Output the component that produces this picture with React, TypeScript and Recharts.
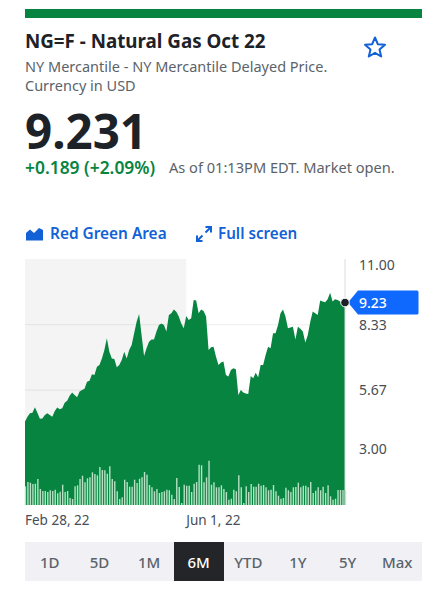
import { Area, Bar, CartesianGrid, ComposedChart, ReferenceArea, ReferenceDot, XAxis, YAxis } from 'recharts';

const prices = [
  4.39, 4.59, 4.73, 4.75, 4.97, 4.75, 4.51, 4.52, 4.66, 4.73, 4.66, 4.59, 4.82, 4.96, 4.89, 4.93, 5.16, 5.24, 5.44, 5.57,
  5.47, 5.38, 5.61, 5.67, 5.73, 6.01, 6.05, 6.32, 6.28, 6.62, 6.69, 6.96, 7.3, 7.78, 7.23, 6.96, 6.93, 6.6, 6.69, 6.89,
  7.23, 6.96, 7.3, 7.5, 7.98, 8.45, 8.76, 7.91, 7.06, 7.37, 7.64, 7.73, 7.73, 8.05, 8.32, 8.38, 8.32, 8.05, 8.72, 8.79,
  8.95, 8.86, 8.66, 8.38, 8.18, 8.68, 8.52, 8.59, 9.33, 9.31, 8.79, 8.95, 8.89, 8.66, 7.3, 7.41, 7.43, 7.03, 6.69, 6.79,
  6.83, 6.28, 6.22, 6.49, 6.56, 6.52, 5.47, 5.67, 5.57, 5.53, 5.51, 6.24, 6.15, 6.38, 6.19, 6.69, 6.69, 7.1, 7.43, 7.37,
  7.98, 7.98, 8.32, 8.79, 8.95, 8.66, 8.18, 8.22, 8.25, 7.73, 8.25, 8.16, 8.05, 7.61, 7.91, 8.45, 8.87, 8.79, 8.72, 9.31,
  9.27, 9.24, 9.36, 9.63, 9.27, 9.36, 9.33, 9.27, 9.17, 9.23,
];

const volumes = [
  18700, 23000, 22300, 21000, 21300, 26000, 16000, 14000, 14000, 13000, 14700, 14000, 15300, 11700, 13300, 20300, 13000, 14000, 7000, 6000,
  18700, 19700, 26000, 29300, 22700, 26700, 27700, 32700, 31000, 29700, 38000, 35000, 34700, 31300, 38700, 26000, 23700, 13700, 6000, 7700,
  25300, 23000, 18300, 18300, 25300, 22000, 26300, 27700, 33000, 30300, 20000, 17700, 13700, 16000, 12000, 13000, 13700, 15300, 14700, 10300,
  6000, 27000, 18000, 2000, 20300, 19300, 19300, 13000, 21300, 23000, 40300, 39700, 22700, 27700, 44300, 20300, 22700, 17700, 17700, 19700,
  16000, 13000, 5300, 6300, 15300, 13700, 29700, 17700, 2000, 18700, 13000, 21000, 18300, 18300, 21300, 19300, 20000, 17700, 14700, 15300,
  20000, 13700, 9300, 6300, 7000, 17300, 14700, 13000, 17700, 18000, 22300, 17700, 19300, 19300, 17700, 23000, 12000, 14300, 17700, 14700,
  18300, 12000, 19700, 8700, 5300, 6300, 15000, 15000, 15000, 15000,
];

const priceTicks = [3, 5.67, 8.33, 11];
const gridValues = [5.67, 8.33];
const dateTicks = [0, 65];
const dateLabels = ['Feb 28, 22', 'Jun 1, 22'];
const ranges = ['1D', '5D', '1M', '6M', 'YTD', '1Y', '5Y', 'Max'];
const activeRange = '6M';

const GREEN = '#07843f';
const BLUE = '#1261d6';
const GREY = '#5b636a';
const FONT = '"Noto Sans", sans-serif';

const chartData = prices.map((price, i) => ({ i, price, volume: volumes[i] }));
const lastIndex = prices.length - 1;

function PriceTick({ x, y, payload }: any) {
  // the outer labels are pulled inwards, like the app does it
  const shift = payload.value === 11 ? 6 : payload.value === 3 ? -7 : 0;
  return (
    <text x={x + 6} y={y + shift} dy={5} fontSize={14} fontFamily={FONT} fill="#464e56">
      {payload.value.toFixed(2)}
    </text>
  );
}

function DateTick({ x, y, payload }: any) {
  return (
    <text x={x} y={y} dy={12} fontSize={13.5} fontFamily={FONT} fill="#464e56">
      {dateLabels[dateTicks.indexOf(payload.value)]}
    </text>
  );
}

function LastPrice({ cx, cy }: any) {
  return (
    <g>
      <path
        d={`M${cx + 3} ${cy} L${cx + 13} ${cy - 12} H${cx + 72} a1.5 1.5 0 0 1 1.5 1.5 V${cy + 10.5} a1.5 1.5 0 0 1 -1.5 1.5 H${cx + 13} Z`}
        fill="#0f69ff"
      />
      <text x={cx + 14} y={cy + 5} fontSize={14} fontWeight={500} fontFamily={FONT} fill="#fff">
        {prices[lastIndex].toFixed(2)}
      </text>
      <circle cx={cx} cy={cy} r={4.3} fill="#1d2228" stroke="#fff" strokeWidth={1} />
    </g>
  );
}

function Label({ left, top, size, weight, color, children }: any) {
  return (
    <div
      style={{
        position: 'absolute',
        left,
        top,
        fontSize: size,
        fontWeight: weight,
        color,
        lineHeight: 1,
        whiteSpace: 'nowrap',
      }}
    >
      {children}
    </div>
  );
}

export default function App() {
  return (
    <div style={{ position: 'absolute', left: 0, top: 0, width: 447, height: 600, background: '#fff', fontFamily: FONT }}>
      <div style={{ position: 'absolute', left: 25, top: 9, width: 397, height: 9, background: GREEN }} />

      <Label left={25} top={32} size={18.8} weight={700} color="#1d2228">NG=F - Natural Gas Oct 22</Label>
      <svg style={{ position: 'absolute', left: 363, top: 35 }} width={24} height={24} viewBox="0 0 24 24">
        <path d="M12 2.5 L14.8 9.2 L22 9.8 L16.5 14.5 L18.2 21.5 L12 17.8 L5.8 21.5 L7.5 14.5 L2 9.8 L9.2 9.2 Z" fill="none" stroke={BLUE} strokeWidth={2} strokeLinejoin="round" />
      </svg>
      <Label left={25} top={59} size={14.5} weight={400} color={GREY}>NY Mercantile - NY Mercantile Delayed Price.</Label>
      <Label left={25} top={78} size={14.5} weight={400} color={GREY}>Currency in USD</Label>

      <Label left={25} top={107} size={47.5} weight={700} color="#1d2228">9.231</Label>
      <Label left={25} top={159} size={17.4} weight={600} color={GREEN}>+0.189 (+2.09%)</Label>
      <Label left={169} top={160} size={14.6} weight={400} color={GREY}>As of 01:13PM EDT. Market open.</Label>

      <svg style={{ position: 'absolute', left: 26, top: 227 }} width={18} height={14} viewBox="0 0 18 14">
        <path d="M0 6 L4 2.5 L8 6 L13 1 L17 3 V13.5 H0 Z" fill={BLUE} />
      </svg>
      <Label left={50} top={226} size={15.4} weight={600} color={BLUE}>Red Green Area</Label>
      <svg style={{ position: 'absolute', left: 196, top: 226 }} width={16} height={16} viewBox="0 0 16 16">
        <path d="M1.5 14.5 L6.5 9.5 M1 9.5 V15 H6.5 M14.5 1.5 L9.5 6.5 M9.5 1 H15 V6.5" fill="none" stroke={BLUE} strokeWidth={2} />
      </svg>
      <Label left={218} top={226} size={15.2} weight={600} color={BLUE}>Full screen</Label>

      <div style={{ position: 'absolute', left: 0, top: 240 }}>
        <ComposedChart width={447} height={290} data={chartData} margin={{ top: 19, right: 28, bottom: 0, left: 25 }}>
          <XAxis
            dataKey="i"
            type="number"
            domain={[0, lastIndex]}
            ticks={dateTicks}
            tick={<DateTick />}
            axisLine={false}
            tickLine={false}
            height={25}
          />
          <YAxis
            yAxisId="price"
            orientation="right"
            domain={[1, 11]}
            ticks={priceTicks}
            tick={<PriceTick />}
            axisLine={{ stroke: '#dcdcdc' }}
            tickLine={false}
            width={74}
            interval={0}
          />
          <YAxis yAxisId="volume" hide domain={[0, 246000]} />
          <CartesianGrid yAxisId="price" vertical={false} horizontalValues={gridValues} stroke="#eeeeee" />
          {/* see-through so the grid still shows in the grey part */}
          <ReferenceArea x1={0} x2={dateTicks[1]} yAxisId="price" fill="#000" fillOpacity={0.043} stroke="none" />
          <Area
            yAxisId="price"
            dataKey="price"
            type="linear"
            stroke="none"
            fill={GREEN}
            fillOpacity={1}
            isAnimationActive={false}
            dot={false}
            activeDot={false}
          />
          <Bar yAxisId="volume" dataKey="volume" fill="#b4e2c3" barSize={1.4} isAnimationActive={false} />
          <ReferenceDot yAxisId="price" x={lastIndex} y={prices[lastIndex]} shape={<LastPrice />} ifOverflow="visible" />
        </ComposedChart>
      </div>

      <div style={{ position: 'absolute', left: 25, top: 542, width: 397, height: 39, background: '#f0f0f5', display: 'flex' }}>
        {ranges.map((r) => (
          <div
            key={r}
            style={{
              flex: 1,
              display: 'flex',
              alignItems: 'center',
              justifyContent: 'center',
              fontSize: 15,
              fontWeight: 500,
              color: r === activeRange ? '#fff' : GREY,
              background: r === activeRange ? '#232528' : 'transparent',
            }}
          >
            {r}
          </div>
        ))}
      </div>
    </div>
  );
}
